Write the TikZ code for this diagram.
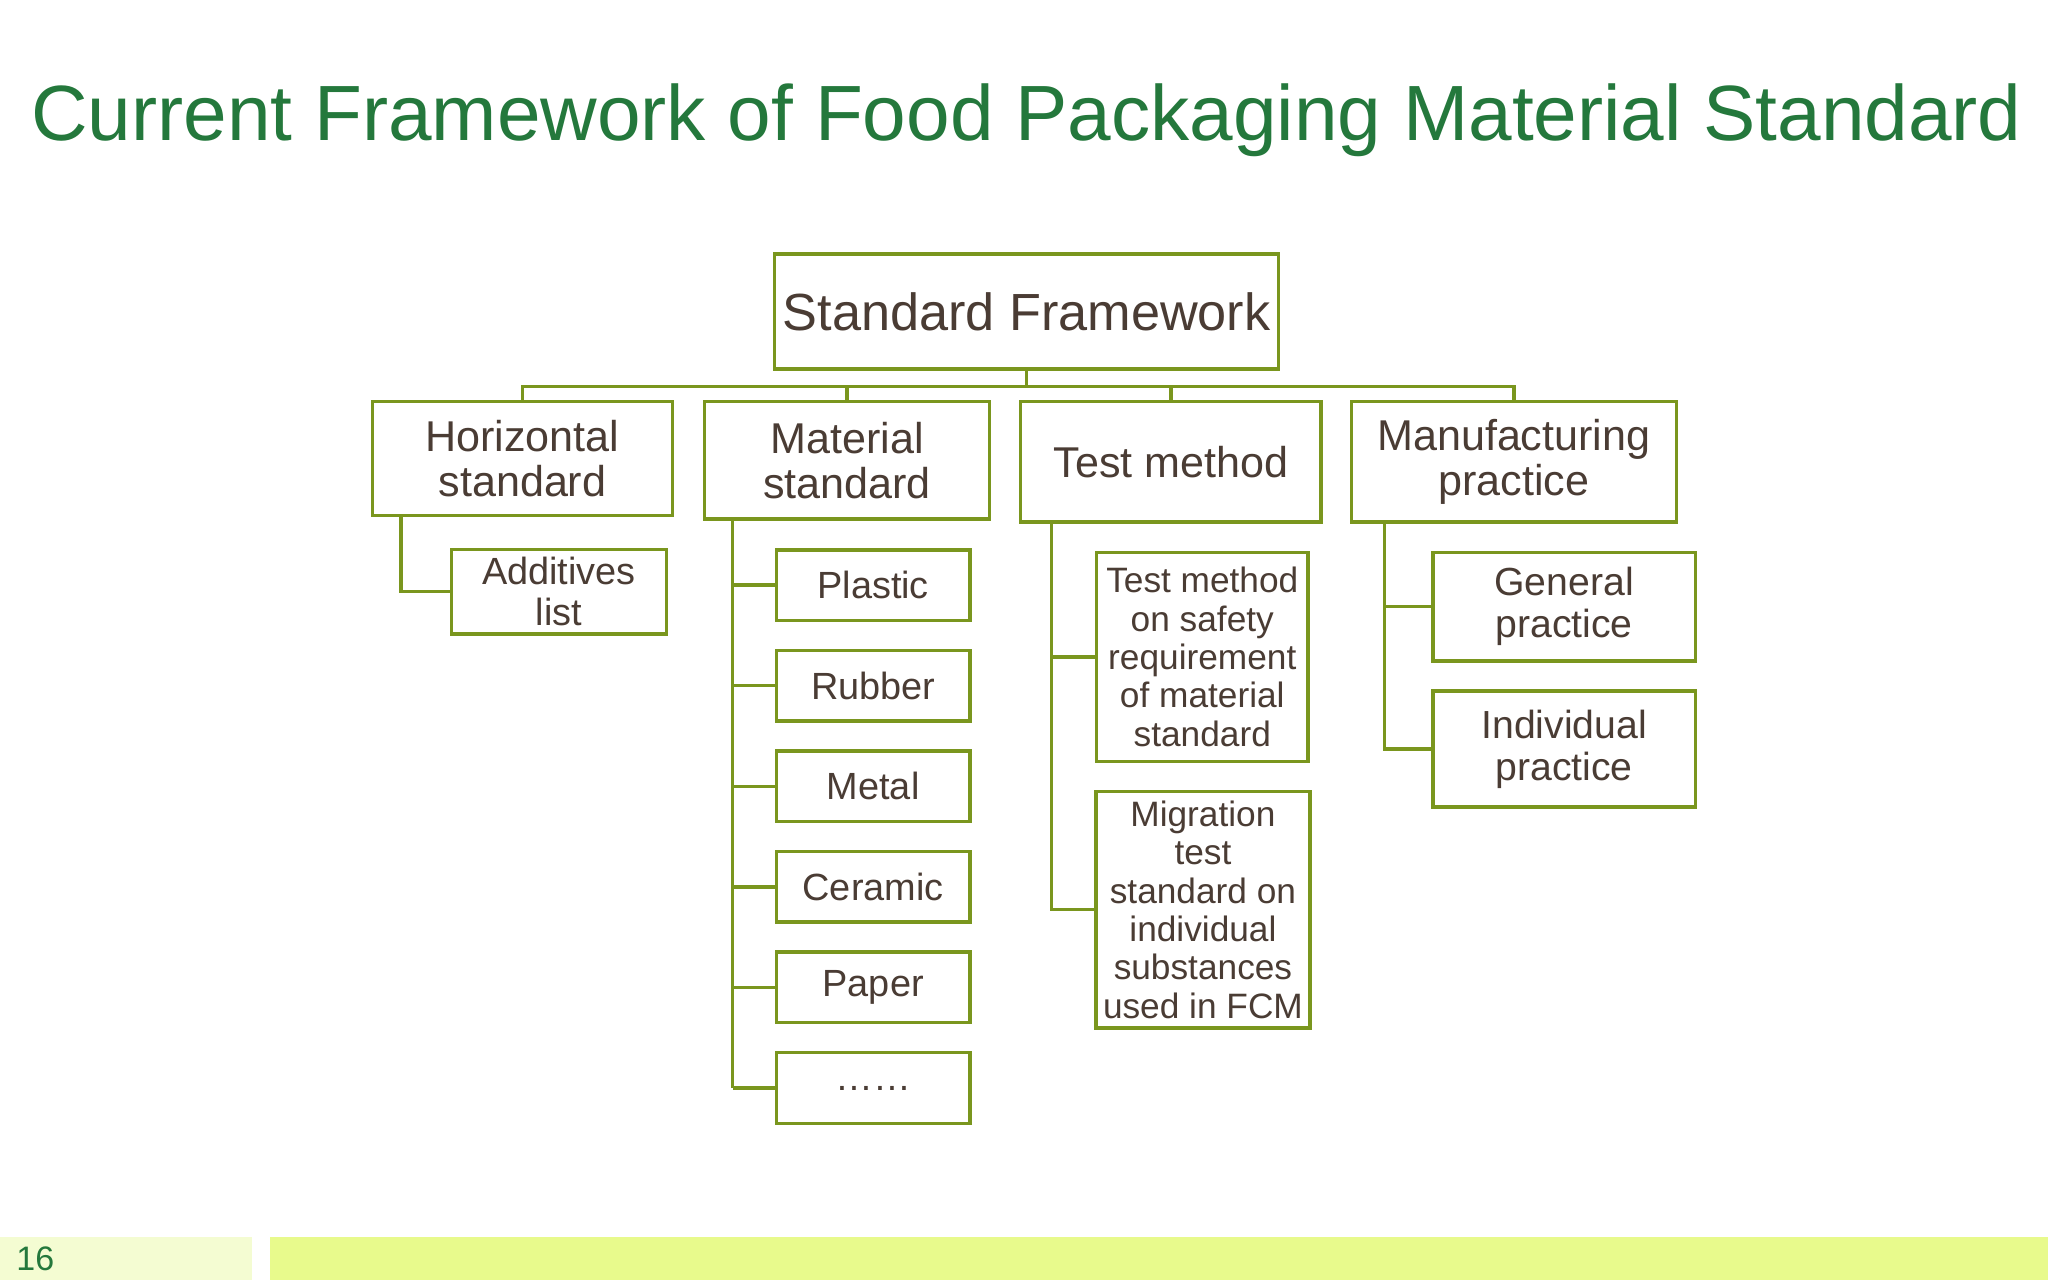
\documentclass[tikz,border=0pt]{standalone}
\usepackage{fontspec}
\setmainfont{Liberation Sans}
\definecolor{ttl}{HTML}{24783C}
\definecolor{bd}{HTML}{7A961E}
\definecolor{tx}{HTML}{4A3C34}
\definecolor{barY}{HTML}{E8FA8C}
\definecolor{barL}{HTML}{F4FCD2}
\begin{document}
\begin{tikzpicture}[x=0.5pt,y=-0.5pt,
  bx/.style={draw=bd,line width=1.3pt,text=tx,align=center,inner sep=0pt},
  ln/.style={draw=bd,line width=1.3pt}]
\useasboundingbox (0,0) rectangle (1568,980);
\fill[white] (0,0) rectangle (1568,980);
\fill[barL] (0,947) rectangle (193,980);
\fill[barY] (207,947) rectangle (1568,980);
\node[text=ttl,font=\fontsize{13}{13}\selectfont] (pg) at (27,964) {16};
\node[text=ttl,font=\fontsize{30}{36}\selectfont] (title) at (786,92) {Current Framework of Food Packaging Material Standard};
\newcommand{\bxat}[6]{\node[bx,font=\fontsize{#6}{#6*1.15}\selectfont,minimum width=#4*0.5pt-1.3pt,minimum height=#5*0.5pt-1.3pt] (#1) at (#2,#3) {};}
% root
\node[bx,minimum width=193pt,minimum height=44pt,font=\fontsize{20}{24}\selectfont] (root) at (786,238.5) {Standard Framework};
\node[bx,minimum width=115pt,minimum height=43.5pt,font=\fontsize{16.5}{17}\selectfont] (hor) at (400,351) {Horizontal\\standard};
\node[bx,minimum width=109pt,minimum height=45pt,font=\fontsize{16.5}{17}\selectfont] (mat) at (648.5,352.5) {Material\\standard};
\node[bx,minimum width=115pt,minimum height=46pt,font=\fontsize{16.5}{17}\selectfont] (tst) at (896.5,353.5) {Test method};
\node[bx,minimum width=124.5pt,minimum height=46pt,font=\fontsize{16.5}{17}\selectfont] (man) at (1159,353.5) {Manufacturing\\practice};
\draw[ln] (root.south) -- (786,296) coordinate (bus);
\draw[ln] (hor.north) |- (bus) -| (man.north);
\draw[ln] (mat.north) -- (mat.north |- bus);
\draw[ln] (tst.north) -- (tst.north |- bus);
% horizontal child
\node[bx,minimum width=82.5pt,minimum height=32.5pt,font=\fontsize{14.5}{15.5}\selectfont] (add) at (428,453) {Additives\\list};
\draw[ln] (307,395) coordinate (hs) |- (add.west);
% material children
\foreach \n/\t/\y in {pl/Plastic/448,ru/Rubber/525,me/Metal/602,ce/Ceramic/679,pa/Paper/756,dd/{……}/833}{
  \node[bx,minimum width=74pt,minimum height=27pt,font=\fontsize{14.5}{15.5}\selectfont] (\n) at (668.5,\y) {\t};
  \draw[ln] (561,\y) -- (\n.west);
}
\draw[ln] (561,398) coordinate (ms) -- (561,833);
% test children
\node[bx,minimum width=81pt,minimum height=80pt,font=\fontsize{13.5}{14.7}\selectfont] (t1) at (920.5,503) {Test method\\on safety\\requirement\\of material\\standard};
\node[bx,minimum width=82pt,minimum height=90.5pt,font=\fontsize{13.5}{14.7}\selectfont] (t2) at (921,696.5) {Migration\\test\\standard on\\individual\\substances\\used in FCM};
\draw[ln] (805,400) coordinate (ts) |- (t2.west);
\draw[ln] (805,503) -- (t1.west);
% manufacturing children
\node[bx,minimum width=100.5pt,minimum height=41.5pt,font=\fontsize{15}{16}\selectfont] (g) at (1197.5,464.5) {General\\practice};
\node[bx,minimum width=100.5pt,minimum height=44.5pt,font=\fontsize{15}{16}\selectfont] (iv) at (1197.5,573.5) {Individual\\practice};
\draw[ln] (1060,400) coordinate (mfs) |- (iv.west);
\draw[ln] (1060,464.5) -- (g.west);
\end{tikzpicture}
\end{document}
